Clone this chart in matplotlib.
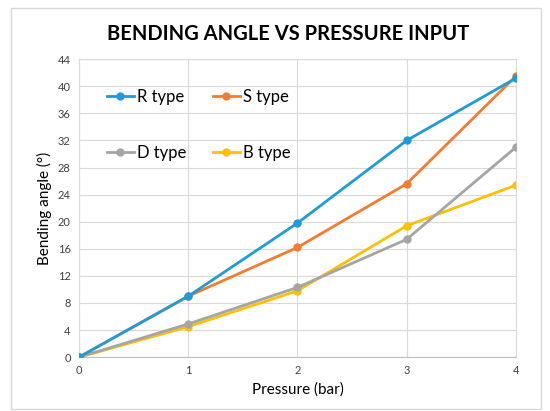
import matplotlib.pyplot as plt
from matplotlib.patches import Rectangle

plt.rcParams['font.family'] = ['Lato', 'DejaVu Sans']

pressure = [0, 1, 2, 3, 4]
r_type = [0, 9.0, 19.8, 32.0, 41.2]
s_type = [0, 9.0, 16.2, 25.6, 41.5]
d_type = [0, 4.9, 10.3, 17.4, 31.0]
b_type = [0, 4.5, 9.8, 19.4, 25.4]

# legend is filled column by column, so this order gives R S / D B rows
series = [("R type", r_type, "#1f9bd7"),
          ("D type", d_type, "#a5a5a5"),
          ("S type", s_type, "#f47b30"),
          ("B type", b_type, "#ffc000")]

fig = plt.figure(figsize=(5.5, 4.11), dpi=100)
ax = fig.add_axes([0.1436, 0.131, 0.7945, 0.725])

# outer chart frame like excel
fig.patches.append(Rectangle((0.02, 0.005), 0.963, 0.975, transform=fig.transFigure,
                             fill=False, edgecolor="#d9d9d9", linewidth=1))

lines = {}
for name, vals, col in series:
    lines[name] = ax.plot(pressure, vals, color=col, linewidth=2, marker="o",
                          markersize=5, label=name)[0]
# draw order like the reference: R, S on top of D, B
for z, name in enumerate(["B type", "D type", "S type", "R type"]):
    lines[name].set_zorder(2 + z)

ax.set_xlim(0, 4)
ax.set_ylim(0, 44)
ax.set_xticks(pressure)
ax.set_yticks(range(0, 45, 4))
ax.grid(True, color="#d9d9d9", linewidth=0.8)
ax.set_axisbelow(True)
for s in ax.spines.values():
    s.set_color("#d9d9d9")
ax.spines["bottom"].set_color("#bfbfbf")
ax.tick_params(length=0, labelsize=8, colors="#404040", pad=6)

ax.set_xlabel("Pressure (bar)", fontsize=11)
ax.set_ylabel("Bending angle (°)", fontsize=11)
fig.text(0.524, 0.918, "BENDING ANGLE VS PRESSURE INPUT", ha="center", va="center",
         fontsize=14.5, fontweight="bold")

ax.legend(ncol=2, loc="upper left", bbox_to_anchor=(0.03, 0.95), frameon=False,
          fontsize=12, labelspacing=2.4, columnspacing=1.6, handlelength=1.6,
          handletextpad=0.2)

fig.savefig("out.png", dpi=100)
